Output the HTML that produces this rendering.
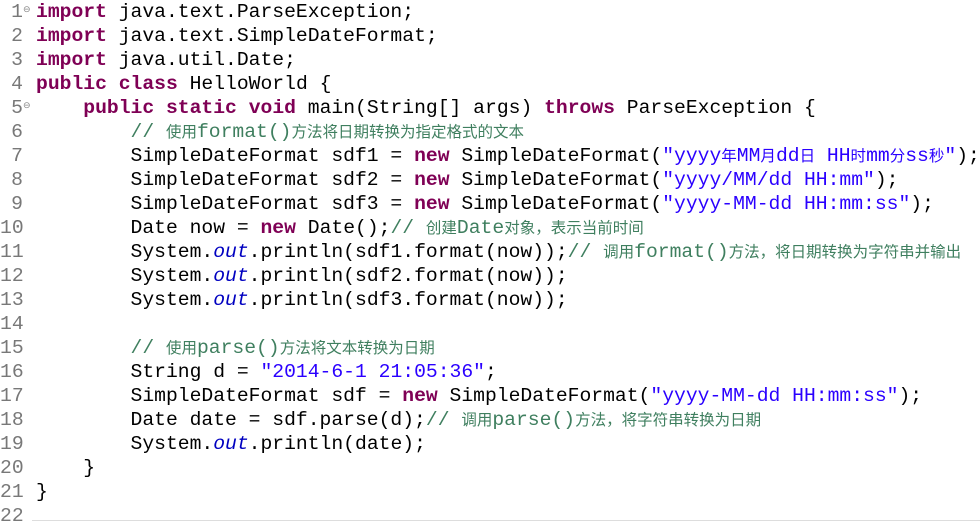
<!DOCTYPE html>
<html><head><meta charset="utf-8"><style>
html,body{margin:0;padding:0;background:#fff;width:980px;height:522px;overflow:hidden}
.ln{position:absolute;left:0;width:23px;text-align:right;font:19.7px "Liberation Mono",monospace;color:#787878;line-height:24px}
.code{position:absolute;left:36px;top:0;font:19.7px "Liberation Mono","Noto Sans CJK SC",monospace;color:#000}
.code div{height:24px;line-height:24px;white-space:pre;overflow:visible}
.k{color:#7f0055;font-weight:bold}
.s{color:#2a00ff}
.c{color:#3f7f5f}
.o{color:#0000c0;font-style:italic}
.z{font-family:"Noto Sans CJK SC",sans-serif;font-size:15.5px;line-height:1}
.f{position:absolute;left:23px;font:9px "DejaVu Sans",sans-serif;color:#888}
</style></head><body>
<div class="ln" style="top:0">1<br>2<br>3<br>4<br>5<br>6<br>7<br>8<br>9<br>10<br>11<br>12<br>13<br>14<br>15<br>16<br>17<br>18<br>19<br>20<br>21<br>22</div>
<div class="f" style="top:5px">⊖</div>
<div class="f" style="top:101px">⊖</div>
<div style="position:absolute;left:32px;right:0;top:520px;height:1px;background:#ddd"></div>
<div class="code">
<div><span class="k">import</span> java.text.ParseException;</div>
<div><span class="k">import</span> java.text.SimpleDateFormat;</div>
<div><span class="k">import</span> java.util.Date;</div>
<div><span class="k">public</span> <span class="k">class</span> HelloWorld {</div>
<div>    <span class="k">public</span> <span class="k">static</span> <span class="k">void</span> main(String[] args) <span class="k">throws</span> ParseException {</div>
<div>        <span class="c">// <span class="z">使用</span>format()<span class="z">方法将日期转换为指定格式的文本</span></span></div>
<div>        SimpleDateFormat sdf1 = <span class="k">new</span> SimpleDateFormat(<span class="s">"yyyy<span class="z">年</span>MM<span class="z">月</span>dd<span class="z">日</span> HH<span class="z">时</span>mm<span class="z">分</span>ss<span class="z">秒</span>"</span>);</div>
<div>        SimpleDateFormat sdf2 = <span class="k">new</span> SimpleDateFormat(<span class="s">"yyyy/MM/dd HH:mm"</span>);</div>
<div>        SimpleDateFormat sdf3 = <span class="k">new</span> SimpleDateFormat(<span class="s">"yyyy-MM-dd HH:mm:ss"</span>);</div>
<div>        Date now = <span class="k">new</span> Date();<span class="c">// <span class="z">创建</span>Date<span class="z">对象，表示当前时间</span></span></div>
<div>        System.<span class="o">out</span>.println(sdf1.format(now));<span class="c">// <span class="z">调用</span>format()<span class="z">方法，将日期转换为字符串并输出</span></span></div>
<div>        System.<span class="o">out</span>.println(sdf2.format(now));</div>
<div>        System.<span class="o">out</span>.println(sdf3.format(now));</div>
<div> </div>
<div>        <span class="c">// <span class="z">使用</span>parse()<span class="z">方法将文本转换为日期</span></span></div>
<div>        String d = <span class="s">"2014-6-1 21:05:36"</span>;</div>
<div>        SimpleDateFormat sdf = <span class="k">new</span> SimpleDateFormat(<span class="s">"yyyy-MM-dd HH:mm:ss"</span>);</div>
<div>        Date date = sdf.parse(d);<span class="c">// <span class="z">调用</span>parse()<span class="z">方法，将字符串转换为日期</span></span></div>
<div>        System.<span class="o">out</span>.println(date);</div>
<div>    }</div>
<div>}</div>
</div>
</body></html>
